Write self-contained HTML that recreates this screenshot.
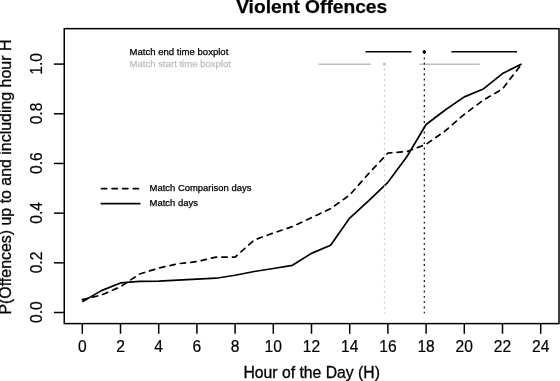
<!DOCTYPE html>
<html><head><meta charset="utf-8"><title>Violent Offences</title>
<style>
html,body{margin:0;padding:0;background:#fff;}
body{width:560px;height:381px;overflow:hidden;}
svg{display:block;font-family:"Liberation Sans",Arial,Helvetica,sans-serif;}
.ax line,.ax rect{stroke:#000;stroke-width:1.5;fill:none;stroke-linecap:butt}
.tl text{font-size:15.85px;fill:#000;stroke:#000;stroke-width:0.3px}
.tl text.tk{font-size:15.6px;stroke-width:0.2px}
.sm text{font-size:9.55px;stroke-width:0.25px}
</style></head><body>
<svg width="560" height="381" viewBox="0 0 560 381">
<rect width="560" height="381" fill="#fff"/>
<text x="311.7" y="13.1" text-anchor="middle" font-size="19.2" font-weight="bold" stroke="#000" stroke-width="0.25">Violent Offences</text>
<g class="ax"><rect x="64.25" y="28.66" width="494.75" height="294.94"/><line x1="82.30" y1="323.6" x2="82.30" y2="333.8"/><line x1="120.50" y1="323.6" x2="120.50" y2="333.8"/><line x1="158.70" y1="323.6" x2="158.70" y2="333.8"/><line x1="196.90" y1="323.6" x2="196.90" y2="333.8"/><line x1="235.10" y1="323.6" x2="235.10" y2="333.8"/><line x1="273.30" y1="323.6" x2="273.30" y2="333.8"/><line x1="311.50" y1="323.6" x2="311.50" y2="333.8"/><line x1="349.70" y1="323.6" x2="349.70" y2="333.8"/><line x1="387.90" y1="323.6" x2="387.90" y2="333.8"/><line x1="426.10" y1="323.6" x2="426.10" y2="333.8"/><line x1="464.30" y1="323.6" x2="464.30" y2="333.8"/><line x1="502.50" y1="323.6" x2="502.50" y2="333.8"/><line x1="540.70" y1="323.6" x2="540.70" y2="333.8"/><line x1="64.25" y1="312.50" x2="53.95" y2="312.50"/><line x1="64.25" y1="262.82" x2="53.95" y2="262.82"/><line x1="64.25" y1="213.14" x2="53.95" y2="213.14"/><line x1="64.25" y1="163.46" x2="53.95" y2="163.46"/><line x1="64.25" y1="113.78" x2="53.95" y2="113.78"/><line x1="64.25" y1="64.10" x2="53.95" y2="64.10"/></g>
<g class="tl"><text class="tk" x="82.30" y="351.7" text-anchor="middle">0</text><text class="tk" x="120.50" y="351.7" text-anchor="middle">2</text><text class="tk" x="158.70" y="351.7" text-anchor="middle">4</text><text class="tk" x="196.90" y="351.7" text-anchor="middle">6</text><text class="tk" x="235.10" y="351.7" text-anchor="middle">8</text><text class="tk" x="273.30" y="351.7" text-anchor="middle">10</text><text class="tk" x="311.50" y="351.7" text-anchor="middle">12</text><text class="tk" x="349.70" y="351.7" text-anchor="middle">14</text><text class="tk" x="387.90" y="351.7" text-anchor="middle">16</text><text class="tk" x="426.10" y="351.7" text-anchor="middle">18</text><text class="tk" x="464.30" y="351.7" text-anchor="middle">20</text><text class="tk" x="502.50" y="351.7" text-anchor="middle">22</text><text class="tk" x="540.70" y="351.7" text-anchor="middle">24</text><text class="tk" transform="translate(42,312.20) rotate(-90)" text-anchor="middle">0.0</text><text class="tk" transform="translate(42,262.52) rotate(-90)" text-anchor="middle">0.2</text><text class="tk" transform="translate(42,212.84) rotate(-90)" text-anchor="middle">0.4</text><text class="tk" transform="translate(42,163.16) rotate(-90)" text-anchor="middle">0.6</text><text class="tk" transform="translate(42,113.48) rotate(-90)" text-anchor="middle">0.8</text><text class="tk" transform="translate(42,63.80) rotate(-90)" text-anchor="middle">1.0</text>
<text x="311.7" y="377.8" text-anchor="middle" style="font-size:15.75px">Hour of the Day (H)</text>
<text transform="translate(11,177.1) rotate(-90)" text-anchor="middle" style="font-size:15.93px">P(Offences) up to and including hour H</text>
</g>
<g fill="none" stroke="#000" stroke-width="1.7" stroke-linejoin="round">
<polyline points="82.30,301.82 101.40,290.64 120.50,282.94 139.60,281.45 158.70,281.20 177.80,280.21 196.90,279.21 216.00,278.22 235.10,275.24 254.20,271.51 273.30,268.53 292.40,265.30 311.50,253.38 330.60,245.18 349.70,218.11 368.80,200.72 387.90,182.34 407.00,156.50 426.10,124.46 445.20,110.05 464.30,96.89 483.40,88.94 502.50,73.54 521.60,64.10"/>
<polyline points="82.30,299.58 101.40,295.11 120.50,286.67 139.60,274.00 158.70,268.04 177.80,263.81 196.90,261.58 216.00,257.11 235.10,257.11 254.20,239.97 273.30,233.01 292.40,226.55 311.50,217.61 330.60,208.67 349.70,195.01 368.80,173.40 387.90,153.03 407.00,151.54 426.10,144.33 445.20,130.92 464.30,114.28 483.40,100.12 502.50,88.94 521.60,64.10" stroke-dasharray="5.3,5.25" stroke-linecap="round"/>
<line x1="101.5" y1="188.6" x2="139.6" y2="188.6" stroke-dasharray="5.3,5.25" stroke-linecap="round"/>
<line x1="100.6" y1="203.7" x2="140.5" y2="203.7"/>
<line x1="365.5" y1="51.75" x2="411.5" y2="51.75"/>
<line x1="451.4" y1="51.75" x2="517" y2="51.75"/>
</g>
<g fill="none" stroke="#bebebe" stroke-width="1.6">
<line x1="318.25" y1="64.25" x2="371" y2="64.25"/>
<line x1="419.5" y1="64.25" x2="479.8" y2="64.25"/>
</g>
<line x1="424.3" y1="52.1" x2="424.3" y2="313.2" stroke="#000" stroke-width="1.15" stroke-dasharray="1.9,3.4"/>
<line x1="384.4" y1="63.15" x2="384.4" y2="313.2" stroke="#bebebe" stroke-width="0.9" stroke-dasharray="1.9,3.4"/>
<circle cx="424.3" cy="51.75" r="1.75" fill="#000"/>
<rect x="383.1" y="62.8" width="2.7" height="2.7" fill="#bebebe"/>
<g class="sm">
<text x="129.6" y="54.7" fill="#000" stroke="#000">Match end time boxplot</text>
<text x="129.6" y="66.8" fill="#bebebe" stroke="#bebebe">Match start time boxplot</text>
<text x="149.6" y="191" fill="#000" stroke="#000" style="font-size:9.45px">Match Comparison days</text>
<text x="149.6" y="206" fill="#000" stroke="#000" style="font-size:9.45px">Match days</text>
</g>
</svg>
</body></html>
